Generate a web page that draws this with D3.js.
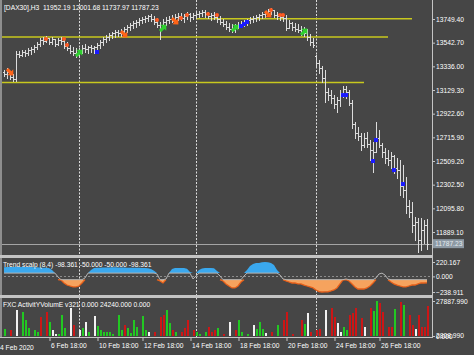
<!DOCTYPE html>
<html>
<head>
<meta charset="utf-8">
<script src="https://cdnjs.cloudflare.com/ajax/libs/d3/7.8.5/d3.min.js"></script>
<style>
    body { margin: 0; background: #464646; }
    text { font-family: "Liberation Sans", Arial, sans-serif; font-size: 6.7px; fill: #ffffff; }
</style>
</head>
<body>
<div class="canvas"></div>
<script>
// H3 bars, [open, high, low, close]
const ohlc = [
    [13286,13304,13251,13269],[13269,13321,13234,13286],[13286,13295,13225,13243],[13243,13269,13208,13225],[13225,13470,13208,13443],
    [13443,13470,13417,13435],[13435,13478,13426,13461],[13461,13478,13426,13452],[13452,13496,13435,13478],[13478,13505,13443,13487],
    [13487,13522,13461,13505],[13505,13548,13487,13531],[13531,13583,13513,13566],[13566,13592,13531,13557],[13557,13601,13548,13583],
    [13583,13583,13531,13548],[13548,13592,13531,13574],[13574,13574,13513,13531],[13531,13583,13522,13566],[13566,13592,13531,13557],
    [13557,13566,13496,13513],[13513,13548,13478,13496],[13496,13522,13452,13470],[13470,13505,13435,13452],[13452,13496,13417,13435],
    [13435,13496,13417,13478],[13478,13522,13452,13496],[13496,13531,13461,13487],[13487,13513,13452,13505],[13505,13522,13461,13496],
    [13496,13513,13452,13505],[13505,13540,13470,13522],[13522,13566,13496,13548],[13548,13592,13522,13574],[13574,13609,13548,13592],
    [13592,13627,13566,13609],[13609,13636,13583,13627],[13627,13653,13592,13636],[13636,13653,13601,13627],[13627,13662,13601,13644],
    [13644,13679,13618,13662],[13662,13697,13636,13679],[13679,13714,13653,13697],[13697,13732,13670,13714],[13714,13740,13679,13723],
    [13723,13758,13697,13740],[13740,13767,13714,13749],[13749,13775,13723,13758],[13758,13784,13732,13775],[13775,13793,13732,13749],
    [13749,13775,13705,13723],[13723,13758,13679,13697],[13697,13723,13574,13670],[13670,13749,13670,13723],[13723,13767,13697,13740],
    [13740,13775,13714,13749],[13749,13784,13723,13732],[13732,13793,13732,13767],[13767,13801,13740,13775],[13775,13801,13740,13758],
    [13758,13793,13723,13775],[13775,13810,13749,13793],[13793,13801,13732,13767],[13767,13801,13749,13784],[13784,13810,13758,13793],
    [13793,13819,13767,13801],[13801,13828,13775,13810],[13810,13828,13767,13793],[13793,13810,13758,13775],[13775,13801,13740,13784],
    [13784,13810,13749,13767],[13767,13793,13723,13749],[13749,13775,13705,13723],[13723,13749,13688,13705],[13705,13732,13662,13679],
    [13679,13714,13644,13662],[13662,13705,13636,13653],[13653,13705,13636,13688],[13688,13723,13670,13697],[13697,13732,13679,13714],
    [13714,13740,13688,13723],[13723,13749,13697,13740],[13740,13767,13714,13749],[13749,13775,13723,13758],[13758,13784,13732,13767],
    [13767,13793,13740,13784],[13784,13810,13758,13793],[13793,13819,13767,13810],[13810,13836,13784,13819],[13819,13845,13793,13828],
    [13828,13828,13767,13784],[13784,13810,13749,13775],[13775,13793,13740,13767],[13767,13793,13732,13758],[13758,13784,13653,13670],
    [13670,13740,13670,13714],[13714,13723,13653,13679],[13679,13714,13644,13662],[13662,13705,13636,13653],[13653,13688,13609,13662],
    [13662,13679,13601,13627],[13627,13662,13566,13592],[13592,13618,13522,13548],[13548,13583,13505,13522],[13426,13435,13339,13365],
    [13365,13391,13278,13321],[13321,13339,13199,13234],[13234,13304,13024,13112],[13112,13147,13042,13085],[13085,13129,13016,13059],
    [13059,13085,12972,13007],[13007,13068,12937,13042],[13042,13129,12989,13103],[13103,13164,13068,13138],[13138,13164,13059,13112],
    [13112,13129,12998,13016],[13016,13042,12797,12832],[12832,12850,12710,12754],[12754,12806,12692,12727],[12727,12754,12605,12649],
    [12649,12754,12631,12710],[12710,12762,12631,12657],[12657,12692,12518,12605],[12605,12675,12413,12588],[12588,12850,12588,12710],
    [12710,12780,12631,12649],[12649,12666,12544,12588],[12588,12623,12492,12535],[12535,12605,12474,12518],[12518,12588,12448,12553],
    [12553,12561,12404,12448],[12448,12535,12361,12430],[12430,12518,12212,12291],[12291,12474,12195,12256],[12256,12369,12055,12116],
    [12116,12168,12020,12064],[12064,12151,11889,11950],[11950,12020,11819,11976],[11976,12011,11714,11819],[11819,12011,11732,11906],
    [11906,11994,11793,11950],[11952.19,12001.68,11737.97,11787.23]
];

// Trend scalp oscillator, one value per bar
const trend = [
    140,142,144,145,146,146,145,144,143,142,140,138,136,134,131,
    129,98,52,-9,-55,-101,-132,-147,-162,-162,-147,-101,-24,52,98,129,
    131,133,135,136,137,138,138,137,136,135,134,134,133,132,131,130,128,124,112,86,
    37,-70,-101,-40,52,113,
    127,129,130,129,118,
    67,-40,6,98,
    122,128,130,129,124,
    83,6,-70,-116,-147,-177,-177,-147,-86,6,98,159,190,205,205,215,220.167,218,205,174,
    98,21,-40,-70,-86,-101,-101,-116,-116,-132,-147,-162,-177,-208,-232,-238.911,-236,-235,-223,-208,
    -177,-116,-55,-40,-70,-116,-162,-193,-193,-193,-177,-147,-101,-24,37,52,21,-40,-86,-116,
    -132,-147,-162,-162,-147,-132,-132,-116,-101,-101,-98.361
];

// FXC activity volume and its colour buffer (g / r / w)
const volume = [
    5600,0,4800,0,20700,0,19150,12750,6400,0,
    4800,3200,15150,0,19150,11200,4800,1600,1600,16750,
    6400,0,22300,8800,0,4800,6400,11200,3200,0,
    15950,8000,4800,3200,3200,3200,1600,0,16750,4800,
    8800,6400,2400,12750,7200,0,15950,4800,3200,0,
    3200,0,15150,16750,20700,10400,4800,3200,0,3200,
    6400,12750,0,4800,3200,1600,0,3200,7200,3200,
    4800,6400,0,1600,0,11200,0,4800,12750,3200,
    0,1600,0,8800,5600,11200,5600,2400,0,3200,
    0,8800,0,12750,19150,0,1600,0,0,12750,
    9600,18350,3200,0,4800,5600,0,20700,0,22300,
    15150,10400,3200,7200,4800,16750,18350,22300,0,14350,
    7200,0,22300,19950,27888,26300,19150,0,7200,7200,
    21500,0,27100,24700,0,16750,8800,5600,16750,7200,
    7200,24240
];
const volType = [
    "ggrgwggggg", "ggrgrgwwgg", "ggwrgwgwgg", "wggggggrgg", "rgggggggwg",
    "rgrrggrggr", "rrgrggggrr", "rggrgwgrgg", "gggwgggwgr", "gggrrgrggr",
    "gwrgrrgwgr", "rwwggrrrgr", "wgrggrrgrr", "ggrggrrwrr", "rr"
].join("").split("");

const priceTicks = [13749.40, 13542.70, 13336.00, 13129.30, 12922.60, 12715.90, 12509.20, 12302.50, 12095.80, 11889.10];
const lastPrice = 11787.23;

const timeIdx = [15, 31, 46, 62, 78, 94, 110, 125];
const timeText = ["6 Feb 18:00", "10 Feb 18:00", "12 Feb 18:00", "14 Feb 18:00",
                  "18 Feb 18:00", "20 Feb 18:00", "24 Feb 18:00", "26 Feb 18:00"];
const weekIdx = [25, 64, 104];

// [price, from bar, to bar]
const levels = [[13752, 64, 136], [13592, -2, 128], [13195, -2, 120]];

// signal marks: [bar, price]
const buyArrows = [[25, 13452], [53, 13670], [77, 13670], [100, 13636]];
const sellArrows = [[2, 13286], [40, 13618], [57, 13732], [88, 13793]];
const redDots = [[14, 13574], [20, 13574], [21, 13522], [51, 13740], [59, 13758], [61, 13784],
                 [68, 13793], [71, 13784], [89, 13828], [92, 13784], [93, 13784]];
const blueDots = [[31, 13461], [79, 13688], [80, 13705], [81, 13723], [113, 13085], [114, 13085],
                  [123, 12509], [124, 12692], [130, 12430], [133, 12308]];

const width = 474, height = 355;
const axisX = 432;
const panel = {
    main: { top: 0, bottom: 254 },
    trend: { top: 258, bottom: 295 },
    vol: { top: 298, bottom: 337 },
};

const svg = d3
    .select(".canvas")
    .append("svg")
    .attr("width", width)
    .attr("height", height)
    .style("display", "block");

svg.append("rect").attr("width", width).attr("height", height).attr("fill", "#464646");

const x = d3.scaleLinear().domain([0, ohlc.length - 1]).range([4, 427]);
const y = d3.scaleLinear().domain([11889.10, 13749.40]).range([232, 19]);
const yT = d3.scaleLinear().domain([-238.911, 220.167]).range([292, 262]);
const yV = d3.scaleLinear().domain([0, 27887.99]).range([336, 301]);
const px = (i) => Math.round(x(i));

// clip areas
const defs = svg.append("defs");
Object.entries(panel).forEach(([k, p]) => {
    defs.append("clipPath").attr("id", "clip-" + k)
        .append("rect").attr("x", 0).attr("y", p.top).attr("width", axisX).attr("height", p.bottom - p.top);
});

// week separators
svg.append("g")
    .selectAll("line")
    .data(weekIdx)
    .enter()
    .append("line")
    .attr("x1", (d) => px(d) + 0.5)
    .attr("x2", (d) => px(d) + 0.5)
    .attr("y1", 0)
    .attr("y2", panel.vol.bottom)
    .attr("stroke", "#dcdcdc")
    .attr("stroke-dasharray", "2,1.5");

const main = svg.append("g").attr("clip-path", "url(#clip-main)");

// horizontal levels
main.selectAll(".level")
    .data(levels)
    .enter()
    .append("line")
    .attr("x1", (d) => x(d[1]))
    .attr("x2", (d) => x(d[2]))
    .attr("y1", (d) => y(d[0]))
    .attr("y2", (d) => y(d[0]))
    .attr("stroke", "#c8c81e")
    .attr("stroke-width", 1.6);

// current price line
main.append("line")
    .attr("x1", 0).attr("x2", axisX)
    .attr("y1", Math.round(y(lastPrice)) + 0.5).attr("y2", Math.round(y(lastPrice)) + 0.5)
    .attr("stroke", "#a4a4a4");

// OHLC bars
const bars = main.append("g").attr("fill", "#dcdcdc").attr("shape-rendering", "crispEdges");
ohlc.forEach((d, i) => {
    const cx = px(i);
    const yh = Math.round(y(d[1])), yl = Math.round(y(d[2]));
    bars.append("rect").attr("x", cx).attr("y", yh).attr("width", 1).attr("height", Math.max(1, yl - yh + 1));
    bars.append("rect").attr("x", cx - 1).attr("y", Math.round(y(d[0]))).attr("width", 1).attr("height", 1);
    bars.append("rect").attr("x", cx + 1).attr("y", Math.round(y(d[3]))).attr("width", 1).attr("height", 1);
});

// signal marks
const arrowPath = "M0,-4.8 L4.2,-0.4 L1.6,-0.4 L1.6,4.2 L-1.6,4.2 L-1.6,-0.4 L-4.2,-0.4 Z";
main.selectAll(".buy")
    .data(buyArrows)
    .enter()
    .append("path")
    .attr("d", arrowPath)
    .attr("fill", "#2fcf2f")
    .attr("transform", (d) => `translate(${x(d[0])},${y(d[1])}) rotate(45)`);
main.selectAll(".sell")
    .data(sellArrows)
    .enter()
    .append("path")
    .attr("d", arrowPath)
    .attr("fill", "#ff6418")
    .attr("transform", (d) => `translate(${x(d[0])},${y(d[1])}) rotate(135)`);
main.selectAll(".dot")
    .data(redDots)
    .enter()
    .append("circle")
    .attr("cx", (d) => x(d[0]))
    .attr("cy", (d) => y(d[1]))
    .attr("r", 2)
    .attr("fill", "#ff5a22");
main.selectAll(".blue")
    .data(blueDots)
    .enter()
    .append("rect")
    .attr("x", (d) => x(d[0]) - 2)
    .attr("y", (d) => y(d[1]) - 2)
    .attr("width", 4)
    .attr("height", 4)
    .attr("fill", "#1a1aff");

// Trend scalp panel
const tg = svg.append("g").attr("clip-path", "url(#clip-trend)");
const clamp = (v) => Math.max(-50, Math.min(50, v));

tg.append("line")
    .attr("x1", 0).attr("x2", axisX)
    .attr("y1", Math.round(yT(0)) + 0.5).attr("y2", Math.round(yT(0)) + 0.5)
    .attr("stroke", "#8c8c8c")
    .attr("stroke-dasharray", "2,2");

tg.append("path")
    .datum(trend)
    .attr("fill", "#3aa8ee")
    .attr("d", d3.area().x((d, i) => x(i)).y0(yT(50)).y1((d) => yT(Math.max(d, 50))));
tg.append("path")
    .datum(trend)
    .attr("fill", "#f6a35e")
    .attr("d", d3.area().x((d, i) => x(i)).y0(yT(-50)).y1((d) => yT(Math.min(d, -50))));
tg.append("path")
    .datum(trend)
    .attr("fill", "none")
    .attr("stroke", "#e8601a")
    .attr("stroke-width", 1.3)
    .attr("d", d3.line()
        .defined((d, i) => d < -50 || trend[i - 1] < -50 || trend[i + 1] < -50)
        .x((d, i) => x(i))
        .y((d) => yT(Math.min(d, -50))));
tg.append("path")
    .datum(trend)
    .attr("fill", "none")
    .attr("stroke", "#b4b4b4")
    .attr("d", d3.line().x((d, i) => x(i)).y((d) => yT(clamp(d))));

// volume panel
const vg = svg.append("g").attr("clip-path", "url(#clip-vol)").attr("shape-rendering", "crispEdges");
const volColor = { g: "#22c822", r: "#cc1616", w: "#f2f2f2" };
vg.selectAll("rect")
    .data(volume)
    .enter()
    .append("rect")
    .attr("x", (d, i) => px(i))
    .attr("y", (d) => yV(d))
    .attr("width", 2)
    .attr("height", (d) => yV(0) - yV(d))
    .attr("fill", (d, i) => volColor[volType[i]]);

// frame, separators
svg.append("rect").attr("x", 0).attr("y", 0).attr("width", 2).attr("height", panel.vol.bottom).attr("fill", "#8e8e8e");
svg.append("rect").attr("x", 0).attr("y", 255).attr("width", axisX).attr("height", 3).attr("fill", "#c4c4c4");
svg.append("rect").attr("x", 0).attr("y", 295).attr("width", axisX).attr("height", 3).attr("fill", "#c4c4c4");
svg.append("line")
    .attr("x1", axisX + 0.5).attr("x2", axisX + 0.5).attr("y1", 0).attr("y2", panel.vol.bottom + 1)
    .attr("stroke", "#c4c4c4");
svg.append("line")
    .attr("x1", 0).attr("x2", axisX).attr("y1", panel.vol.bottom + 0.5).attr("y2", panel.vol.bottom + 0.5)
    .attr("stroke", "#c4c4c4");

// axes
function styleAxis(g) {
    g.select(".domain").remove();
    g.selectAll(".tick line").attr("stroke", "#c4c4c4");
    g.selectAll(".tick text").attr("fill", "#ffffff").style("font-size", "6.7px");
}

svg.append("g")
    .attr("transform", `translate(${axisX},0)`)
    .call(d3.axisRight(y).tickValues(priceTicks).tickSize(3).tickPadding(1).tickFormat(d3.format(".2f")))
    .call(styleAxis);

svg.append("g")
    .attr("transform", `translate(${axisX},0)`)
    .call(d3.axisRight(yT).tickValues([220.167, 0, -238.911]).tickSize(3).tickPadding(1).tickFormat(d3.format(".3f")))
    .call(styleAxis);

svg.append("g")
    .attr("transform", `translate(${axisX},0)`)
    .call(d3.axisRight(yV).tickValues([27887.99, 0]).tickSize(3).tickPadding(1).tickFormat(d3.format(".3f")))
    .call(styleAxis);
// the terminal prints a second scale label on top of 0.000 here
svg.append("text").attr("x", 436).attr("y", yV(0)).attr("dy", "0.32em").text("2808.990");

const xAxisGroup = svg.append("g")
    .attr("transform", `translate(0.5,${panel.vol.bottom + 1})`)
    .call(d3.axisBottom(x).tickValues(timeIdx).tickSize(3).tickPadding(2)
        .tickFormat((d) => timeText[timeIdx.indexOf(d)]))
    .call(styleAxis);
xAxisGroup.selectAll(".tick text").attr("text-anchor", "start").attr("x", 1);

svg.append("text").attr("x", 0).attr("y", 350).text("4 Feb 2020");

// last price box
const ly = y(lastPrice);
svg.append("rect").attr("x", 433).attr("y", ly - 4.5).attr("width", 31).attr("height", 9).attr("fill", "#8d99a4");
svg.append("text").attr("x", 435).attr("y", ly).attr("dy", "0.33em").style("fill", "#e4eaee").text("11787.23");

// titles
svg.append("text").attr("x", 4).attr("y", 10).attr("xml:space", "preserve")
    .text("[DAX30],H3  11952.19 12001.68 11737.97 11787.23");
svg.append("text").attr("x", 3).attr("y", 267)
    .text("Trend scalp (8,4) -98.361 -50.000 -50.000 -98.361");
svg.append("text").attr("x", 3).attr("y", 307)
    .text("FXC ActivitYVolumE v321 0.000 24240.000 0.000");
</script>
</body>
</html>
